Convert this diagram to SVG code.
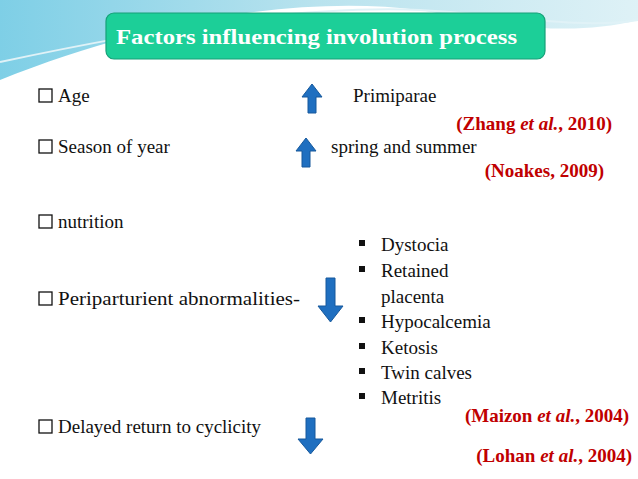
<svg xmlns="http://www.w3.org/2000/svg" width="638" height="479" viewBox="0 0 638 479">
<defs>
<linearGradient id="sw" x1="0" y1="0" x2="1" y2="0"><stop offset="0" stop-color="#5ec3e0"/><stop offset="0.5" stop-color="#a8dcea"/><stop offset="1" stop-color="#d6eef4"/></linearGradient>
</defs>
<style>
text{font-family:"Liberation Serif","DejaVu Serif",serif}
.t{font-size:19px;fill:#111}
.c{font-size:19px;font-weight:bold;fill:#c00000;text-anchor:end}
.cb{fill:none;stroke:#111;stroke-width:1.3}
.ar{fill:#1f6fc0;stroke:#17599c;stroke-width:1}
.bl{fill:#111}
</style>
<rect width="638" height="479" fill="#fff"/>
<path d="M0 0 H638 V20 C560 40 480 20 420 10 C300 -5 150 20 0 80 Z" fill="url(#sw)" opacity="0.8"/>
<path d="M0 62 C150 30 300 5 420 10 C500 14 580 30 638 20" fill="none" stroke="#e0f2f7" stroke-width="2"/>
<g id="title">
<rect x="106" y="13" width="439" height="46" rx="8" fill="#1ccf98" stroke="#16a078" stroke-width="1.2"/>
<text x="116" y="44" font-size="21" font-weight="bold" fill="#fff" textLength="401" lengthAdjust="spacingAndGlyphs">Factors influencing involution process</text>
</g>
<g id="left">
<rect class="cb" x="39" y="89" width="13" height="13"/><text class="t" x="58" y="102">Age</text>
<rect class="cb" x="39" y="140" width="13" height="13"/><text class="t" x="58" y="153">Season of year</text>
<rect class="cb" x="39" y="215" width="13" height="13"/><text class="t" x="58" y="228">nutrition</text>
<rect class="cb" x="39" y="292" width="13" height="13"/><text class="t" x="58" y="305" textLength="242" lengthAdjust="spacingAndGlyphs">Periparturient abnormalities-</text>
<rect class="cb" x="39" y="420" width="13" height="13"/><text class="t" x="58" y="433">Delayed return to cyclicity</text>
</g>
<g id="arrows">
<path class="ar" d="M312 84 L322 97 L316 97 L316 113 L308 113 L308 97 L302 97 Z"/>
<path class="ar" d="M306 138 L316 151 L310 151 L310 167 L302 167 L302 151 L296 151 Z"/>
<path class="ar" d="M326 278 L335 278 L335 306 L343 306 L330.5 322 L318 306 L326 306 Z"/>
<path class="ar" d="M306 418 L315 418 L315 439 L323 439 L310.5 454 L298 439 L306 439 Z"/>
</g>
<g id="right">
<text class="t" x="353" y="102">Primiparae</text>
<text class="t" x="331" y="153">spring and summer</text>
</g>
<g id="bullets">
<rect class="bl" x="359" y="240" width="6" height="6"/><text class="t" x="381" y="251">Dystocia</text>
<rect class="bl" x="359" y="266" width="6" height="6"/><text class="t" x="381" y="277">Retained</text>
<text class="t" x="381" y="303">placenta</text>
<rect class="bl" x="359" y="317" width="6" height="6"/><text class="t" x="381" y="328">Hypocalcemia</text>
<rect class="bl" x="359" y="343" width="6" height="6"/><text class="t" x="381" y="354">Ketosis</text>
<rect class="bl" x="359" y="368" width="6" height="6"/><text class="t" x="381" y="379">Twin calves</text>
<rect class="bl" x="359" y="393" width="6" height="6"/><text class="t" x="381" y="404">Metritis</text>
</g>
<g id="cites">
<text class="c" x="612" y="130">(Zhang <tspan font-style="italic">et al.</tspan>, 2010)</text>
<text class="c" x="604" y="177">(Noakes, 2009)</text>
<text class="c" x="629" y="422">(Maizon <tspan font-style="italic">et al.</tspan>, 2004)</text>
<text class="c" x="632" y="462">(Lohan <tspan font-style="italic">et al.</tspan>, 2004)</text>
</g>
</svg>
